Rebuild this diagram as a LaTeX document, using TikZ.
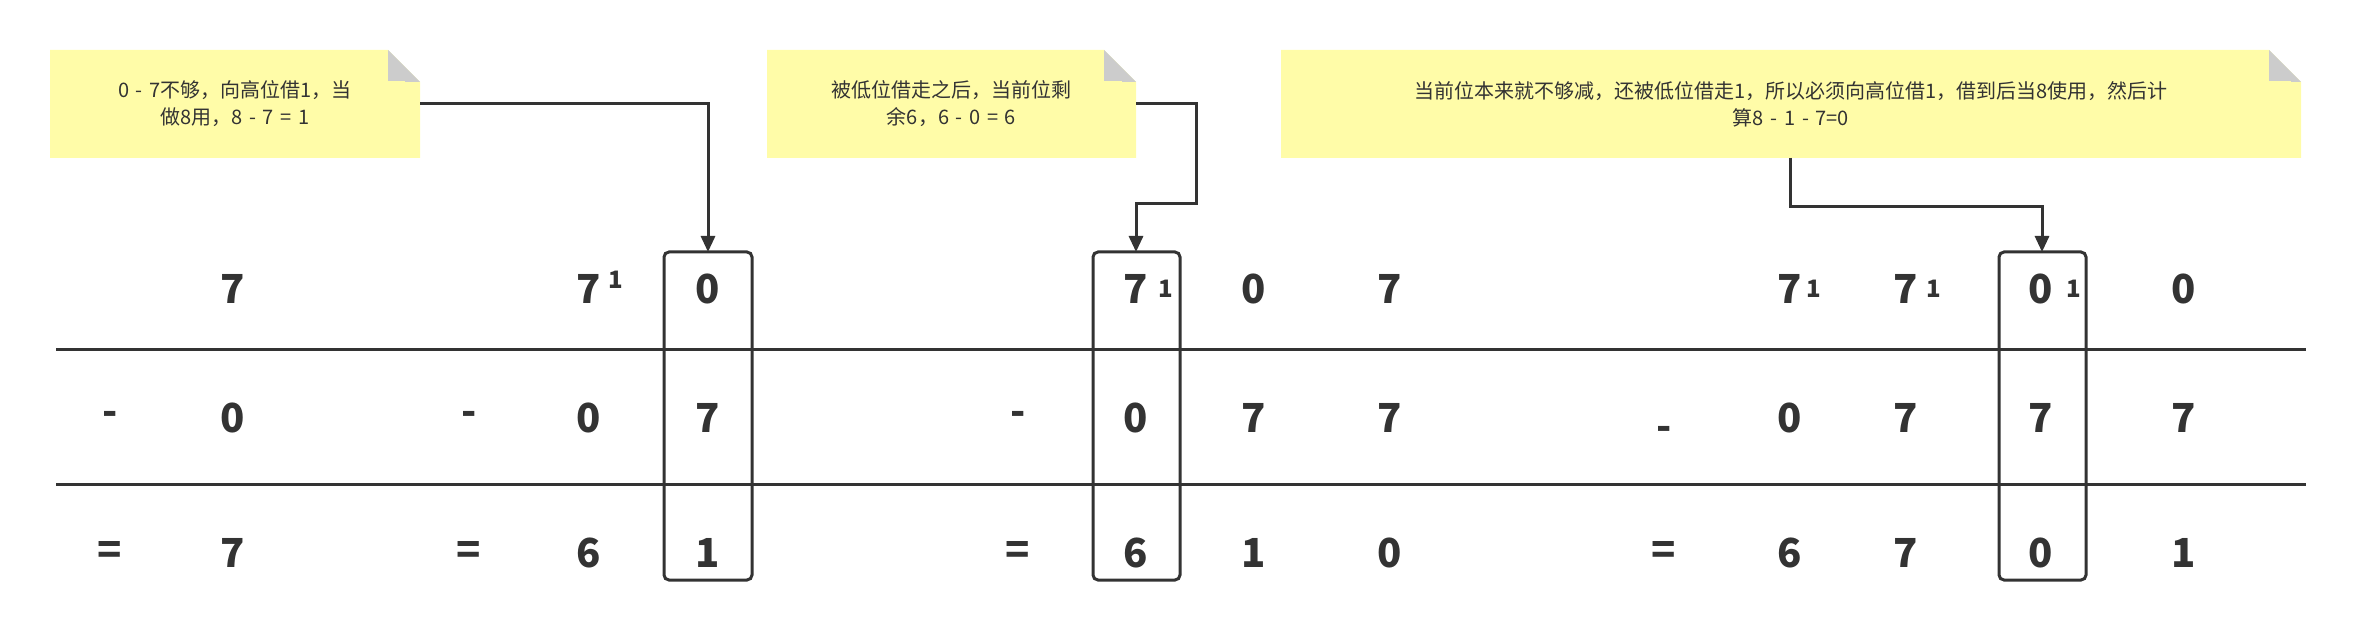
\documentclass[tikz,border=0pt]{standalone}
\usepackage{fontspec}
\newfontfamily\cjk{Noto Sans CJK SC}
\usetikzlibrary{arrows.meta}
\begin{document}
\begin{tikzpicture}[x=1pt,y=-1pt,
  note/.style={fill=yellow!40!white,fill=notey,draw=none,text=txt,font=\cjk\fontsize{20}{27}\selectfont,align=center,inner sep=0},
  dig/.style={font=\cjk\bfseries\fontsize{40}{40}\selectfont,text=txt,inner sep=0},
  sup/.style={font=\cjk\bfseries\fontsize{24}{24}\selectfont,text=txt,inner sep=0},
  box/.style={draw=txt,line width=3pt,rounded corners=5pt},
  conn/.style={draw=txt,line width=3pt,-{Triangle[length=16pt,width=14pt]}},
  rule/.style={draw=txt,line width=3pt}]
\definecolor{notey}{HTML}{FFFCA8}
\definecolor{txt}{HTML}{333333}
\definecolor{fold}{HTML}{CCCCCC}
\useasboundingbox (0,0) rectangle (2357,636);
% notes
\foreach \n/\xa/\xb in {n1/50/420,n2/767/1136,n3/1281/2301}{
  \fill[notey] (\xa,50) -- (\xb-32,50) -- (\xb,82) -- (\xb,158) -- (\xa,158) -- cycle;
  \fill[fold] (\xb-32,50) -- (\xb,82) -- (\xb-32,82) -- cycle;
  \coordinate (\n) at ({(\xa+\xb)/2},104);
}
\node[note,text width=340pt] (t1) at (n1) {0 - 7不够，向高位借1，当\\做8用，8 - 7 = 1};
\node[note,text width=340pt] (t2) at (n2) {被低位借走之后，当前位剩\\余6，6 - 0 = 6};
\node[note,text width=1000pt] (t3) at (n3) {当前位本来就不够减，还被低位借走1，所以必须向高位借1，借到后当8使用，然后计\\算8 - 1 - 7=0};
\coordinate (r1) at (420,104);
\coordinate (r2) at (1136,104);
\coordinate (b3) at (1790,158);
% boxes
\draw[box] (664,252) rectangle (752,580);
\draw[box] (1093,252) rectangle (1180,580);
\draw[box] (1999,252) rectangle (2086,580);
\coordinate (a1) at (708,252);
\coordinate (a2) at (1136,252);
\coordinate (a3) at (2042,252);
\draw[conn] (r1) -| (a1);
\draw[conn] (r2) -- (1196,104) -- (1196,204) -- (1136,204) -- (a2);
\draw[conn] (b3) -- (1790,207) -- (2042,207) -- (a3);
% rules
\coordinate (l1a) at (56,349); \coordinate (l1b) at (2306,349);
\coordinate (l2a) at (56,484); \coordinate (l2b) at (2306,484);
\draw[rule] (l1a) -- (l1b);
\draw[rule] (l2a) -- (l2b);
% row 1
\foreach \x in {233,589,708,1136,1254,1390,1790,1906,2041,2184}
  \node[dig] at (\x,289) {\ifnum\x=233 7\else\ifnum\x=589 7\else\ifnum\x=708 0\else\ifnum\x=1136 7\else\ifnum\x=1254 0\else\ifnum\x=1390 7\else\ifnum\x=1790 7\else\ifnum\x=1906 7\else 0\fi\fi\fi\fi\fi\fi\fi\fi};
\foreach \x/\y in {616/280,1166/289,1814/289,1934/289,2074/289}
  \node[sup] at (\x,\y) {1};
% row 2
\foreach \x/\t in {110/-,233/0,469/-,589/0,708/7,1018/-,1136/0,1254/7,1390/7,1790/0,1906/7,2041/7,2184/7}
  \node[dig] at (\x,418) {\t};
\node[dig] at (1664,433) {-};
% row 3
\foreach \x/\t in {110/=,233/7,469/=,589/6,708/1,1018/=,1136/6,1254/1,1390/0,1664/=,1790/6,1906/7,2041/0,2184/1}
  \node[dig] at (\x,553) {\t};
\end{tikzpicture}
\end{document}
